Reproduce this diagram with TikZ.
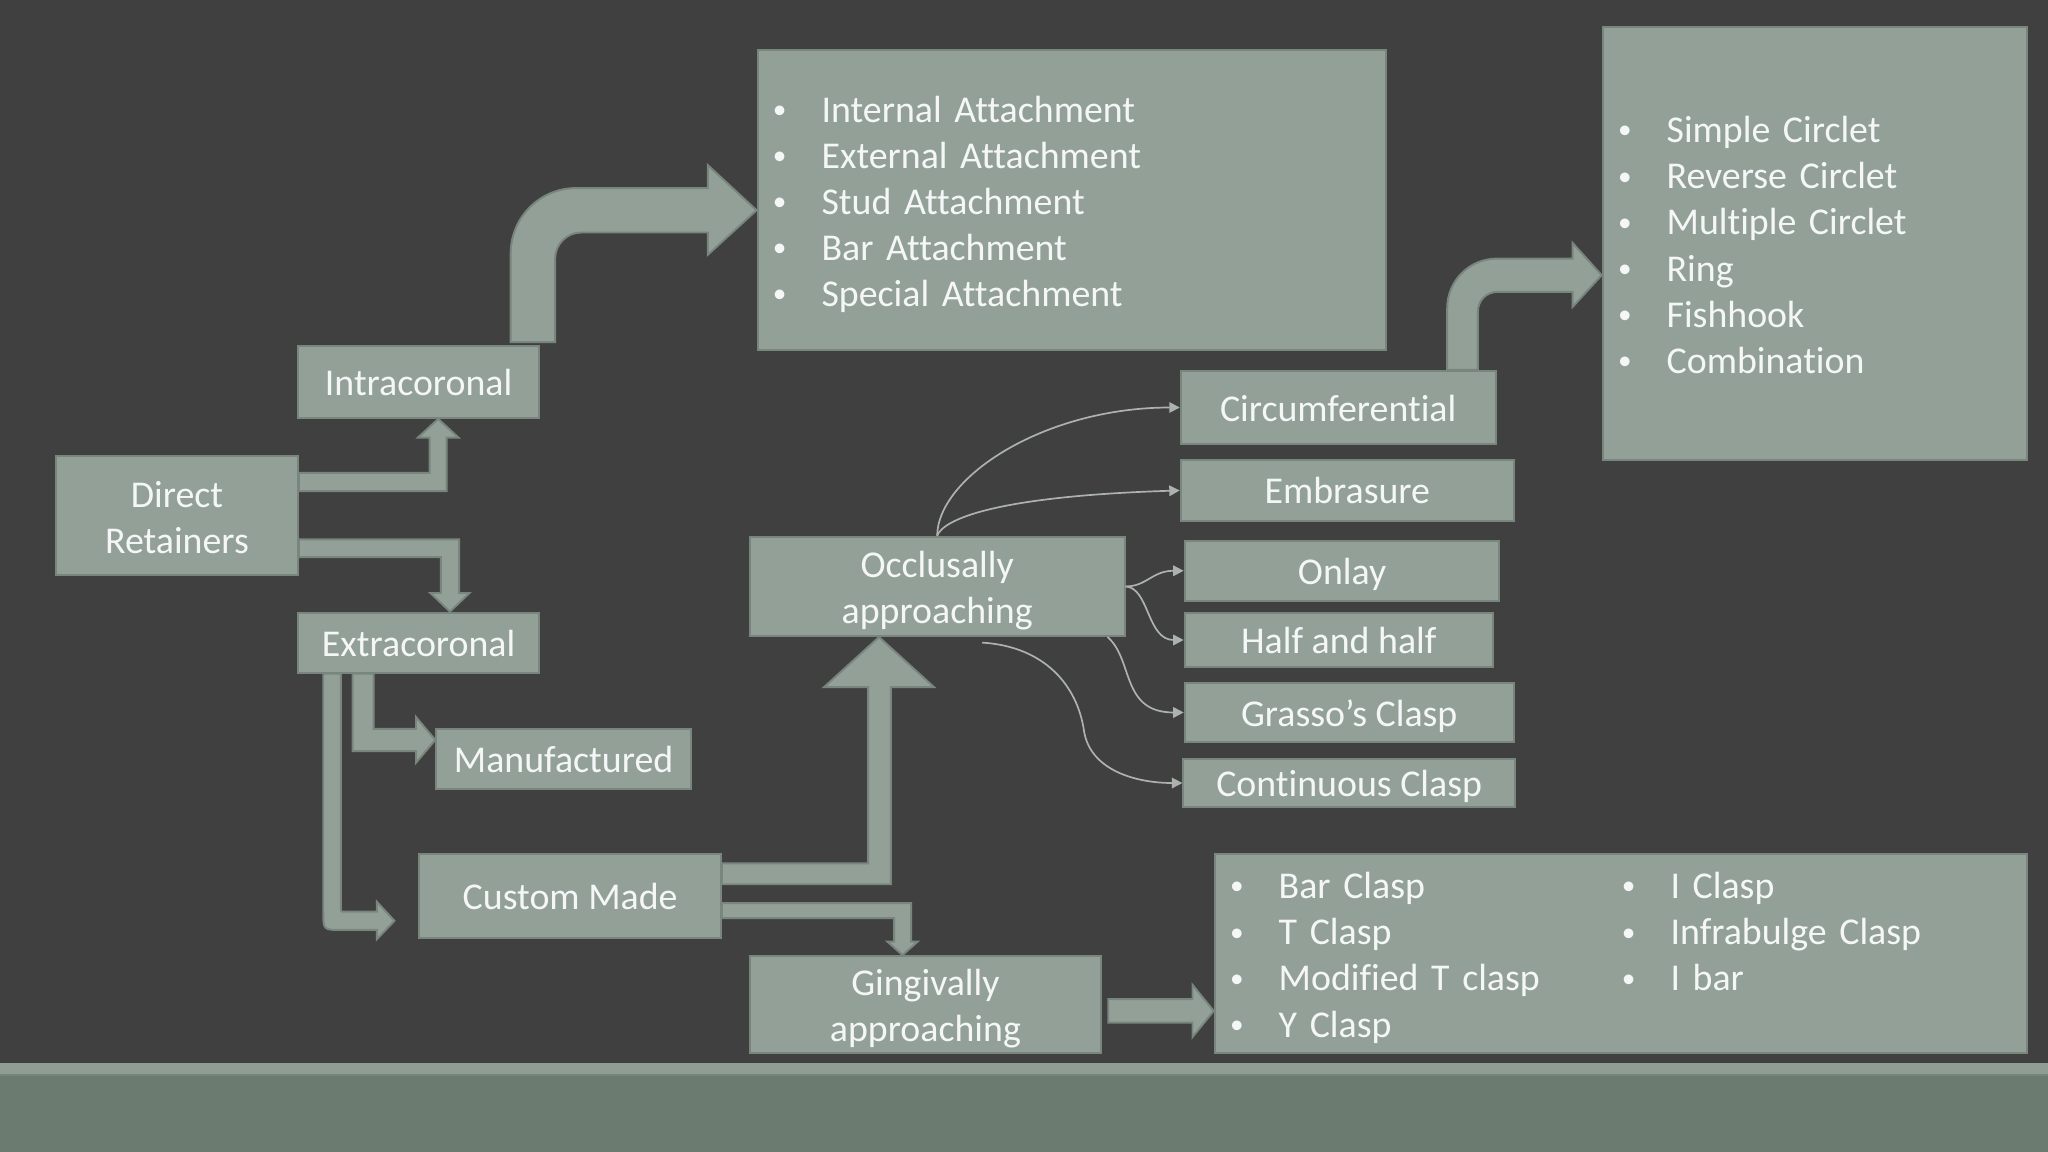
\documentclass[tikz,border=0pt]{standalone}
\usepackage{graphicx}
\usepackage{fontspec}
\setmainfont{Carlito}[Ligatures={TeX,NoCommon}]
\usetikzlibrary{arrows.meta}
\definecolor{bgc}{RGB}{64,64,64}
\definecolor{boxc}{RGB}{146,160,151}
\definecolor{boxline}{RGB}{120,134,125}
\definecolor{thinc}{RGB}{172,179,175}
\definecolor{txtc}{RGB}{245,247,246}
\definecolor{stripc}{RGB}{143,158,148}
\definecolor{stripline}{RGB}{118,133,123}
\definecolor{bandc}{RGB}{108,123,111}
\newcommand{\bl}[1]{\makebox[49pt][l]{\hspace{17pt}\makebox[0pt][c]{\raisebox{2.9pt}{\scalebox{0.72}{\textbullet}}}}#1}
\begin{document}
\begin{tikzpicture}[x=1pt,y=-1pt,
  box/.style={draw=boxline, line width=1.5pt, fill=boxc, text=txtc, inner sep=0pt, font=\fontsize{29}{35.3}\selectfont},
  one/.style={box, text height=22pt, text depth=1.3pt},
  two/.style={box, align=center},
  lst/.style={box, align=left},
  blk/.style={draw=boxline, line width=1.5pt, fill=boxc, line join=miter},
  tarrow/.style={draw=thinc, line width=1.3pt, -{Triangle[length=8pt,width=8pt]}}
]
\useasboundingbox (0,0) rectangle (1568,882);
\fill[bgc] (0,0) rectangle (1568,882);
\fill[stripc] (0,814) rectangle (1568,822);
\fill[stripline] (0,822) rectangle (1568,823.5);
\fill[bandc] (0,823.5) rectangle (1568,882);

% nodes
\node[two, minimum width=185pt, minimum height=91pt] (dr) at (135.5,394.5) {\rule{0pt}{23pt}Direct\\Retainers};
\node[one, minimum width=185pt, minimum height=55pt] (intra) at (320.5,292.5) {Intracoronal};
\node[one, minimum width=185pt, minimum height=46pt] (extra) at (320.5,492) {Extracoronal};
\node[one, minimum width=195pt, minimum height=46pt] (manu) at (431.5,581) {Manufactured};
\node[one, minimum width=231pt, minimum height=64pt] (custom) at (436.5,686) {Custom Made};
\node[two, minimum width=287pt, minimum height=76pt] (occl) at (717.5,449) {\rule{0pt}{27pt}Occlusally\\approaching};
\node[two, minimum width=269pt, minimum height=74pt] (ging) at (708.5,769) {\rule{0pt}{27pt}Gingivally\\approaching};
\node[one, minimum width=241pt, minimum height=56pt] (circum) at (1024.5,312) {Circumferential};
\node[one, minimum width=255pt, minimum height=47pt] (embr) at (1031.5,375.5) {Embrasure};
\node[one, minimum width=241pt, minimum height=46pt] (onlay) at (1027.5,437) {Onlay};
\node[one, minimum width=236pt, minimum height=42pt] (half) at (1025,490) {Half and half};
\node[one, minimum width=252pt, minimum height=45pt] (grasso) at (1033,545.5) {Grasso’s Clasp};
\node[one, minimum width=254pt, minimum height=37pt] (cont) at (1033,599.5) {Continuous Clasp};

\node[lst, minimum width=481pt, minimum height=230pt, text width=481pt] (attach) at (820.5,153)
  {\begin{tabular}{@{}l@{}}\noalign{\vskip8pt}\bl{Internal Attachment}\\ \bl{External Attachment}\\ \bl{Stud Attachment}\\ \bl{Bar Attachment}\\ \bl{Special Attachment}\end{tabular}};
\node[lst, minimum width=325pt, minimum height=331pt, text width=325pt] (circlet) at (1389.5,186.5)
  {\begin{tabular}{@{}l@{}}\noalign{\vskip8pt}\bl{Simple Circlet}\\ \bl{Reverse Circlet}\\ \bl{Multiple Circlet}\\ \bl{Ring}\\ \bl{Fishhook}\\ \bl{Combination}\end{tabular}};
\node[lst, minimum width=622pt, minimum height=152pt, text width=622pt] (bar) at (1241,730)
  {\begin{tabular}{@{}p{300pt}@{}l@{}}\noalign{\vskip8pt}\bl{Bar Clasp} & \bl{I Clasp}\\ \bl{T Clasp} & \bl{Infrabulge Clasp}\\ \bl{Modified T clasp} & \bl{I bar}\\ \bl{Y Clasp} & \end{tabular}};

% block arrows
\path[blk] (dr.east |- 0,362) -- (329,362) -- (329,335) -- (320,335) -- (intra.south -| 335.5,0) -- (351,335) -- (342,335) -- (342,376) -- (dr.east |- 0,376) -- cycle;
\path[blk] (dr.east |- 0,413) -- (351.5,413) -- (351.5,454) -- (359.5,454) -- (extra.north -| 344.5,0) -- (329.5,454) -- (337.5,454) -- (337.5,426.5) -- (dr.east |- 0,426.5) -- cycle;
\path[blk] (extra.south -| 270,0) -- (270,575) -- (318.5,575) -- (318.5,584) -- (manu.west |- 0,566.5) -- (318.5,549) -- (318.5,558) -- (286,558) -- (extra.south -| 286,0) -- cycle;
\path[blk] (extra.south -| 247.5,0) -- (247.5,698) .. controls (247.5,712) .. (261.5,712) -- (288.6,712) -- (288.6,719) -- (302,705) -- (288.6,690.5) -- (288.6,698) -- (264,698) .. controls (261,698) .. (261,695) -- (extra.south -| 261,0) -- cycle;
\path[blk] (custom.east |- 0,661) -- (664.6,661) -- (664.6,526) -- (631,526) -- (occl.south -| 673,0) -- (715,526) -- (682,526) -- (682,677) -- (custom.east |- 0,677) -- cycle;
\path[blk] (custom.east |- 0,691.5) -- (697.5,691.5) -- (697.5,721) -- (702.5,721) -- (ging.north -| 691,0) -- (679.5,721) -- (684.5,721) -- (684.5,703) -- (custom.east |- 0,703) -- cycle;
\path[blk] (848.5,765) -- (913,765) -- (913,754) -- (bar.west |- 0,774) -- (913,794) -- (913,783) -- (848.5,783) -- cycle;
\path[blk] (391,262) -- (391,194) .. controls (391,166.4) and (413.4,144) .. (441,144) -- (542,144) -- (542,126.5) -- (attach.west |- 0,161) -- (542,195) -- (542,178) -- (445,178) .. controls (434,178) and (425,187) .. (425,198) -- (425,262) -- cycle;
\path[blk] (circum.north -| 1108,0) -- (1108,236) .. controls (1108,215) and (1125,198) .. (1146,198) -- (1204,198) -- (1204,186) -- (circlet.west |- 0,210.7) -- (1204,235) -- (1204,223.5) -- (1146.5,223.5) .. controls (1138,223.5) and (1131.5,230) .. (1131.5,238.5) -- (circum.north -| 1131.5,0) -- cycle;

% thin arrows
\coordinate (cstart) at (752,492);
\draw[tarrow] (occl.north) .. controls (718,365) and (800,312) .. (circum.west);
\draw[tarrow] (occl.north) .. controls (722,398) and (760,380) .. (embr.west);
\draw[tarrow] (occl.east) .. controls (878,449) and (882,437) .. (onlay.west);
\draw[tarrow] (occl.east) .. controls (880,450) and (878,490) .. (half.west);
\draw[tarrow] (occl.south -| 848,0) .. controls (868,505) and (858,545.5) .. (grasso.west);
\draw[tarrow] (cstart) .. controls (800,495) and (825,525) .. (830,560) .. controls (835,590) and (870,599.5) .. (cont.west);
\end{tikzpicture}
\end{document}
